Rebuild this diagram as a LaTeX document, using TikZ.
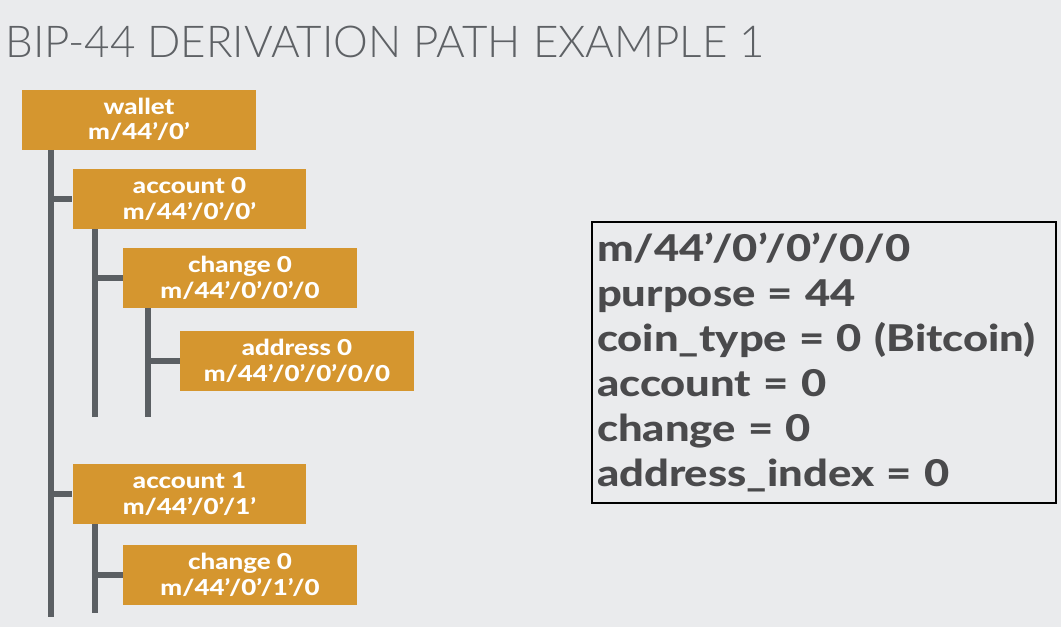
\documentclass[tikz,border=0pt]{standalone}
\usepackage{fontspec}
\setmainfont{Lato}
\newfontfamily\titlefont{Lato Light}
\newfontfamily\heavyfont{Lato Heavy}[FakeStretch=1.18,Ligatures=TeX]
\usetikzlibrary{calc,positioning}
\definecolor{boxorange}{HTML}{D5962F}
\definecolor{treegray}{HTML}{5B5F63}
\definecolor{textgray}{HTML}{4A4A4C}
\definecolor{titlegray}{HTML}{5E6165}
\definecolor{bggray}{HTML}{EAEBED}

\begin{document}
\begin{tikzpicture}[x=0.02cm,y=-0.02cm,
	key/.style={fill=boxorange,text=white,font=\heavyfont\fontsize{12.5}{14.5}\selectfont,
		minimum width=4.68cm,minimum height=1.2cm,align=center,inner sep=0pt},
	branch/.style={draw=treegray,line width=0.12cm}]
	\fill[bggray] (0,0) rectangle (1061,627);
	\useasboundingbox (0,0) rectangle (1061,627);

	\coordinate (W)  at (139,119.5);
	\coordinate (A0) at (189.5,199);
	\coordinate (C0) at (240,278);
	\coordinate (D0) at (297,361);
	\coordinate (A1) at (189.5,494);
	\coordinate (C1) at (240,575);

	\coordinate (Tw)  at (51,617);
	\coordinate (Ta0) at (95,417);
	\coordinate (Tc0) at (148,417);
	\coordinate (Ta1) at (95,613);

	\node[titlegray,anchor=base west,inner sep=0pt,font=\titlefont\fontsize{25}{30}\selectfont] (title) at (5,57) {BIP-44 DERIVATION PATH EXAMPLE 1};

	\node[key] (wallet) at (W)  {wallet\\m/44’/0’};
	\node[key] (acc0)   at (A0) {account 0\\m/44’/0’/0’};
	\node[key] (chg0)   at (C0) {change 0\\m/44’/0’/0’/0};
	\node[key] (addr0)  at (D0) {address 0\\m/44’/0’/0’/0/0};
	\node[key] (acc1)   at (A1) {account 1\\m/44’/0’/1’};
	\node[key] (chg1)   at (C1) {change 0\\m/44’/0’/1’/0};

	\node[draw=black,line width=0.04cm,text=textgray,font=\heavyfont\fontsize{21}{25.6}\selectfont,
		text width=9.08cm,inner xsep=0.1cm,minimum height=5.62cm,align=left] (info) at (824,362.5)
		{m/44’/0’/0’/0/0\\purpose = 44\\coin\_type = 0 (Bitcoin)\\account = 0\\change = 0\\address\_index = 0};

	\draw[branch] (wallet.south -| Tw) -- (Tw);
	\draw[branch] (Tw |- acc0.west) -- (acc0.west);
	\draw[branch] (Tw |- acc1.west) -- (acc1.west);
	\draw[branch] (acc0.south -| Ta0) -- (Ta0);
	\draw[branch] (Ta0 |- chg0.west) -- (chg0.west);
	\draw[branch] (chg0.south -| Tc0) -- (Tc0);
	\draw[branch] (Tc0 |- addr0.west) -- (addr0.west);
	\draw[branch] (acc1.south -| Ta1) -- (Ta1);
	\draw[branch] (Ta1 |- chg1.west) -- (chg1.west);
\end{tikzpicture}
\end{document}
